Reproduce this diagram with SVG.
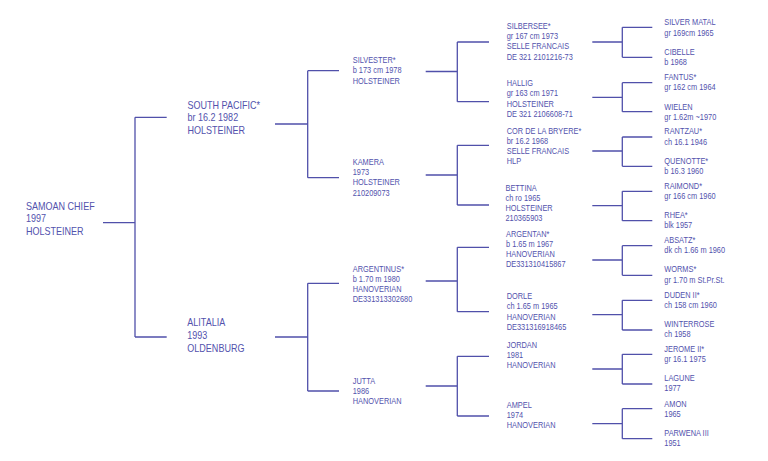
<svg xmlns="http://www.w3.org/2000/svg" width="768" height="461" viewBox="0 0 768 461">
<style>
text{font-family:"Liberation Sans",Arial,sans-serif;fill:#5252ad}
.l{font-size:10.5px}
.s{font-size:8.4px}
#connectors path{fill:none;stroke:#5050aa;stroke-width:1.3}
</style>
<rect width="768" height="461" fill="#ffffff"/>
<g id="connectors">
<path d="M103,222.7H135M135,117.3V337M135,117.3H166.7M135,337H166.7"/>
<path d="M275,124H307.7M307.7,70.7V177.7M307.7,70.7H339M307.7,177.7H339"/>
<path d="M275,337H307.7M307.7,283.3V391M307.7,283.3H339M307.7,391H339"/>
<path d="M425.7,71.5H457.3M457.3,42V101.7M457.3,42H489M457.3,101.7H489"/>
<path d="M425.7,175H457.3M457.3,145.3V205M457.3,145.3H489M457.3,205H489"/>
<path d="M425.7,281H457.3M457.3,247.3V311.7M457.3,247.3H489M457.3,311.7H489"/>
<path d="M425.7,386H457.3M457.3,356.3V416M457.3,356.3H489M457.3,416H489"/>
<path d="M592.3,42H622.3M622.3,27.3V57.3M622.3,27.3H652.3M622.3,57.3H652.3"/>
<path d="M592.3,97.3H622.3M622.3,82.7V111.7M622.3,82.7H652.3M622.3,111.7H652.3"/>
<path d="M592.3,151H622.3M622.3,137V166.3M622.3,137H652.3M622.3,166.3H652.3"/>
<path d="M592.3,205.7H622.3M622.3,191.3V220.7M622.3,191.3H652.3M622.3,220.7H652.3"/>
<path d="M592.3,260H622.3M622.3,245.7V275.3M622.3,245.7H652.3M622.3,275.3H652.3"/>
<path d="M592.3,314.7H622.3M622.3,300.3V330M622.3,300.3H652.3M622.3,330H652.3"/>
<path d="M592.3,369H622.3M622.3,354.3V384M622.3,354.3H652.3M622.3,384H652.3"/>
<path d="M592.3,423.7H622.3M622.3,408.7V438.7M622.3,408.7H652.3M622.3,438.7H652.3"/>
</g>
<g id="samoan-chief" transform="translate(26,0) scale(0.86,1)"><text class="l"><tspan x="0" y="210">SAMOAN CHIEF</tspan><tspan x="0" y="222.4">1997</tspan><tspan x="0" y="235">HOLSTEINER</tspan></text></g>
<g id="south-pacific" transform="translate(187.5,0) scale(0.86,1)"><text class="l"><tspan x="0" y="109">SOUTH PACIFIC*</tspan><tspan x="0" y="121.4">br 16.2 1982</tspan><tspan x="0" y="134">HOLSTEINER</tspan></text></g>
<g id="alitalia" transform="translate(187.3,0) scale(0.86,1)"><text class="l"><tspan x="0" y="326.4">ALITALIA</tspan><tspan x="0" y="339">1993</tspan><tspan x="0" y="351.7">OLDENBURG</tspan></text></g>
<g id="silvester" transform="translate(352.7,0) scale(0.88,1)"><text class="s"><tspan x="0" y="63">SILVESTER*</tspan><tspan x="0" y="73.3">b 173 cm 1978</tspan><tspan x="0" y="83.7">HOLSTEINER</tspan></text></g>
<g id="kamera" transform="translate(352.7,0) scale(0.88,1)"><text class="s"><tspan x="0" y="165.3">KAMERA</tspan><tspan x="0" y="175.3">1973</tspan><tspan x="0" y="185.3">HOLSTEINER</tspan><tspan x="0" y="195.6">210209073</tspan></text></g>
<g id="argentinus" transform="translate(352.7,0) scale(0.88,1)"><text class="s"><tspan x="0" y="271.7">ARGENTINUS*</tspan><tspan x="0" y="282">b 1.70 m 1980</tspan><tspan x="0" y="292.3">HANOVERIAN</tspan><tspan x="0" y="302.3">DE331313302680</tspan></text></g>
<g id="jutta" transform="translate(352.7,0) scale(0.88,1)"><text class="s"><tspan x="0" y="383.7">JUTTA</tspan><tspan x="0" y="394">1986</tspan><tspan x="0" y="404">HANOVERIAN</tspan></text></g>
<g id="silbersee" transform="translate(506.7,0) scale(0.88,1)"><text class="s"><tspan x="0" y="29">SILBERSEE*</tspan><tspan x="0" y="39">gr 167 cm 1973</tspan><tspan x="0" y="49.3">SELLE FRANCAIS</tspan><tspan x="0" y="59.7">DE 321 2101216-73</tspan></text></g>
<g id="hallig" transform="translate(506.7,0) scale(0.88,1)"><text class="s"><tspan x="0" y="86">HALLIG</tspan><tspan x="0" y="96.3">gr 163 cm 1971</tspan><tspan x="0" y="106.7">HOLSTEINER</tspan><tspan x="0" y="117">DE 321 2106608-71</tspan></text></g>
<g id="cor-de-la-bryere" transform="translate(506.7,0) scale(0.88,1)"><text class="s"><tspan x="0" y="133.7">COR DE LA BRYERE*</tspan><tspan x="0" y="143.7">br 16.2 1968</tspan><tspan x="0" y="154">SELLE FRANCAIS</tspan><tspan x="0" y="164">HLP</tspan></text></g>
<g id="bettina" transform="translate(505.5,0) scale(0.88,1)"><text class="s"><tspan x="0" y="191">BETTINA</tspan><tspan x="0" y="201">ch ro 1965</tspan><tspan x="0" y="211">HOLSTEINER</tspan><tspan x="0" y="221.3">210365903</tspan></text></g>
<g id="argentan" transform="translate(506,0) scale(0.88,1)"><text class="s"><tspan x="0" y="237">ARGENTAN*</tspan><tspan x="0" y="247">b 1.65 m 1967</tspan><tspan x="0" y="257">HANOVERIAN</tspan><tspan x="0" y="267">DE331310415867</tspan></text></g>
<g id="dorle" transform="translate(506.7,0) scale(0.88,1)"><text class="s"><tspan x="0" y="299">DORLE</tspan><tspan x="0" y="309.3">ch 1.65 m 1965</tspan><tspan x="0" y="319.7">HANOVERIAN</tspan><tspan x="0" y="329.7">DE331316918465</tspan></text></g>
<g id="jordan" transform="translate(506.7,0) scale(0.88,1)"><text class="s"><tspan x="0" y="348.3">JORDAN</tspan><tspan x="0" y="358.3">1981</tspan><tspan x="0" y="368.3">HANOVERIAN</tspan></text></g>
<g id="ampel" transform="translate(506.7,0) scale(0.88,1)"><text class="s"><tspan x="0" y="408">AMPEL</tspan><tspan x="0" y="418">1974</tspan><tspan x="0" y="428">HANOVERIAN</tspan></text></g>
<g id="silver-matal" transform="translate(664.3,0) scale(0.88,1)"><text class="s"><tspan x="0" y="25.3">SILVER MATAL</tspan><tspan x="0" y="35.7">gr 169cm 1965</tspan></text></g>
<g id="cibelle" transform="translate(664.3,0) scale(0.88,1)"><text class="s"><tspan x="0" y="54.7">CIBELLE</tspan><tspan x="0" y="64.7">b 1968</tspan></text></g>
<g id="fantus" transform="translate(664.3,0) scale(0.88,1)"><text class="s"><tspan x="0" y="80.3">FANTUS*</tspan><tspan x="0" y="90.3">gr 162 cm 1964</tspan></text></g>
<g id="wielen" transform="translate(664.3,0) scale(0.88,1)"><text class="s"><tspan x="0" y="109.7">WIELEN</tspan><tspan x="0" y="119.7">gr 1.62m ~1970</tspan></text></g>
<g id="rantzau" transform="translate(664.3,0) scale(0.88,1)"><text class="s"><tspan x="0" y="134">RANTZAU*</tspan><tspan x="0" y="144.7">ch 16.1 1946</tspan></text></g>
<g id="quenotte" transform="translate(664.3,0) scale(0.88,1)"><text class="s"><tspan x="0" y="163.7">QUENOTTE*</tspan><tspan x="0" y="174">b 16.3 1960</tspan></text></g>
<g id="raimond" transform="translate(664.3,0) scale(0.88,1)"><text class="s"><tspan x="0" y="188.7">RAIMOND*</tspan><tspan x="0" y="199">gr 166 cm 1960</tspan></text></g>
<g id="rhea" transform="translate(664.3,0) scale(0.88,1)"><text class="s"><tspan x="0" y="218">RHEA*</tspan><tspan x="0" y="228">blk 1957</tspan></text></g>
<g id="absatz" transform="translate(664.3,0) scale(0.88,1)"><text class="s"><tspan x="0" y="243">ABSATZ*</tspan><tspan x="0" y="253.3">dk ch 1.66 m 1960</tspan></text></g>
<g id="worms" transform="translate(664.3,0) scale(0.88,1)"><text class="s"><tspan x="0" y="272.3">WORMS*</tspan><tspan x="0" y="282.7">gr 1.70 m St.Pr.St.</tspan></text></g>
<g id="duden-ii" transform="translate(664.3,0) scale(0.88,1)"><text class="s"><tspan x="0" y="297.7">DUDEN II*</tspan><tspan x="0" y="308">ch 158 cm 1960</tspan></text></g>
<g id="winterrose" transform="translate(664.3,0) scale(0.88,1)"><text class="s"><tspan x="0" y="327">WINTERROSE</tspan><tspan x="0" y="337">ch 1958</tspan></text></g>
<g id="jerome-ii" transform="translate(664.3,0) scale(0.88,1)"><text class="s"><tspan x="0" y="352">JEROME II*</tspan><tspan x="0" y="362.3">gr 16.1 1975</tspan></text></g>
<g id="lagune" transform="translate(664.3,0) scale(0.88,1)"><text class="s"><tspan x="0" y="381.3">LAGUNE</tspan><tspan x="0" y="391.3">1977</tspan></text></g>
<g id="amon" transform="translate(664.3,0) scale(0.88,1)"><text class="s"><tspan x="0" y="406.7">AMON</tspan><tspan x="0" y="416.7">1965</tspan></text></g>
<g id="parwena-iii" transform="translate(664.3,0) scale(0.88,1)"><text class="s"><tspan x="0" y="436">PARWENA III</tspan><tspan x="0" y="446">1951</tspan></text></g>
</svg>
